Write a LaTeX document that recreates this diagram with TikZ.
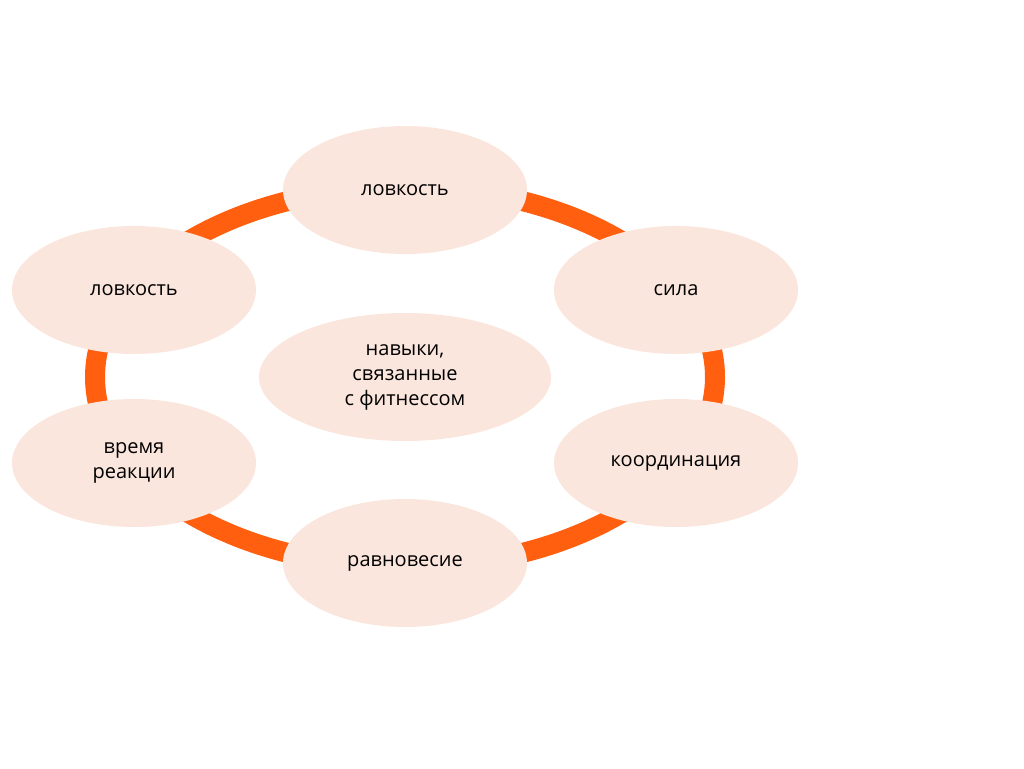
\documentclass[tikz,border=0pt]{standalone}
\usepackage{fontspec}
\setmainfont{Open Sans}
\usetikzlibrary{shapes.geometric}
\definecolor{ring}{HTML}{FF5F0F}
\definecolor{pill}{HTML}{FBE6DE}
\tikzset{bub/.style={ellipse,fill=pill,minimum width=244pt,minimum height=128pt,inner sep=0pt,align=center,font=\fontsize{20}{25}\selectfont}}
\begin{document}
\begin{tikzpicture}[x=1pt,y=-1pt]
\useasboundingbox (0,0) rectangle (1024,768);
\draw[ring,line width=20pt] (405,377) ellipse [x radius=310, y radius=190];
\node[bub] (t) at (405,190) {ловкость};
\node[bub] (tl) at (134,290) {ловкость};
\node[bub] (tr) at (676,290) {сила};
\node[bub] (br) at (676,463) {координация};
\node[bub] (bl) at (134,463) {время\\реакции};
\node[bub] (b) at (405,563) {равновесие};
\node[bub,minimum width=292pt] (c) at (405,377) {навыки,\\связанные\\с фитнессом};
\end{tikzpicture}
\end{document}
